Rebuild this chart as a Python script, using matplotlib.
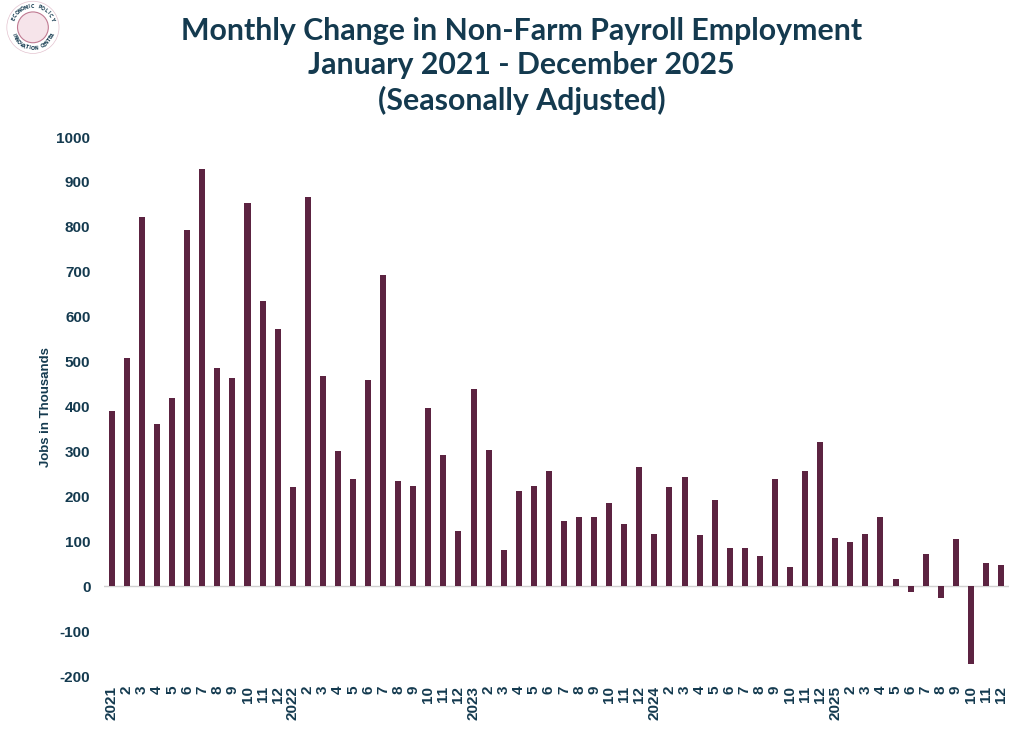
import numpy as np
import matplotlib.pyplot as plt
from matplotlib.patches import Circle

plt.rcParams['axes.unicode_minus'] = False

years = [2021, 2022, 2023, 2024, 2025]
jobs_2021 = [390, 507, 822, 362, 418, 793, 928, 485, 463, 853, 635, 572]
jobs_2022 = [221, 866, 467, 302, 238, 458, 693, 235, 224, 397, 292, 123]
jobs_2023 = [439, 304, 81, 213, 224, 256, 146, 155, 155, 185, 139, 266]
jobs_2024 = [116, 220, 244, 114, 191, 84, 86, 68, 238, 42, 257, 321]
jobs_2025 = [108, 99, 117, 155, 17, -13, 71, -26, 106, -173, 52, 48]

values = jobs_2021 + jobs_2022 + jobs_2023 + jobs_2024 + jobs_2025
labels = []
for y in years:
    labels += [str(y)] + [str(m) for m in range(2, 13)]

bar_color = '#5c2341'
text_color = '#143a4f'

fig = plt.figure(figsize=(10.13, 7.29), dpi=100)
ax = fig.add_axes([0.103, 0.0727, 0.8926, 0.7393])

x = np.arange(len(values))
ax.bar(x, values, width=0.4, color=bar_color, zorder=2)
ax.axhline(0, color='#d0d0d0', lw=1, zorder=1)

ax.set_xlim(-0.5, len(values) - 0.5)
ax.set_ylim(-200, 1000)
ax.set_yticks(range(-200, 1001, 100))
ax.set_xticks(x)
ax.set_xticklabels(labels, rotation=90, fontsize=11, fontweight='bold',
                   color=text_color, family='Liberation Sans')
for t in ax.get_yticklabels():
    t.set_fontsize(11)
    t.set_fontweight('bold')
    t.set_color(text_color)
    t.set_family('Liberation Sans')
ax.tick_params(axis='y', length=0, pad=10)
ax.tick_params(axis='x', length=0, pad=7)
for s in ax.spines.values():
    s.set_visible(False)

fig.text(0.045, 0.442, 'Jobs in Thousands', rotation=90, ha='center', va='center',
         fontsize=9.5, fontweight='bold', color=text_color, family='Liberation Sans')

fig.text(0.515, 0.977, 'Monthly Change in Non-Farm Payroll Employment\nJanuary 2021 - December 2025\n(Seasonally Adjusted)',
         ha='center', va='top', fontsize=21.8, fontweight='bold', color=text_color,
         family='Lato', linespacing=1.28)

# logo
lax = fig.add_axes([0.0, 0.925, 0.065, 0.075])
lax.set_xlim(-1.1, 1.1)
lax.set_ylim(-1.1, 1.1)
lax.set_aspect('equal')
lax.axis('off')
lax.add_patch(Circle((0, 0), 0.62, fc='#f6e4ea', ec='#c07a92', lw=0.8))
lax.add_patch(Circle((0, 0), 1.05, fc='none', ec='#e3c3cf', lw=0.5))
def arc_text(s, start, end, r, top):
    angs = np.linspace(start, end, len(s))
    for ch, a in zip(s, angs):
        rot = np.degrees(a) - 90 if top else np.degrees(a) + 90
        lax.text(r * np.cos(a), r * np.sin(a), ch, ha='center', va='center',
                 rotation=rot, fontsize=3.3, fontweight='bold', color=text_color)
arc_text('ECONOMIC POLICY', np.radians(155), np.radians(25), 0.84, True)
arc_text('INNOVATION CENTER', np.radians(200), np.radians(340), 0.84, False)

fig.savefig('out.png', dpi=100)
